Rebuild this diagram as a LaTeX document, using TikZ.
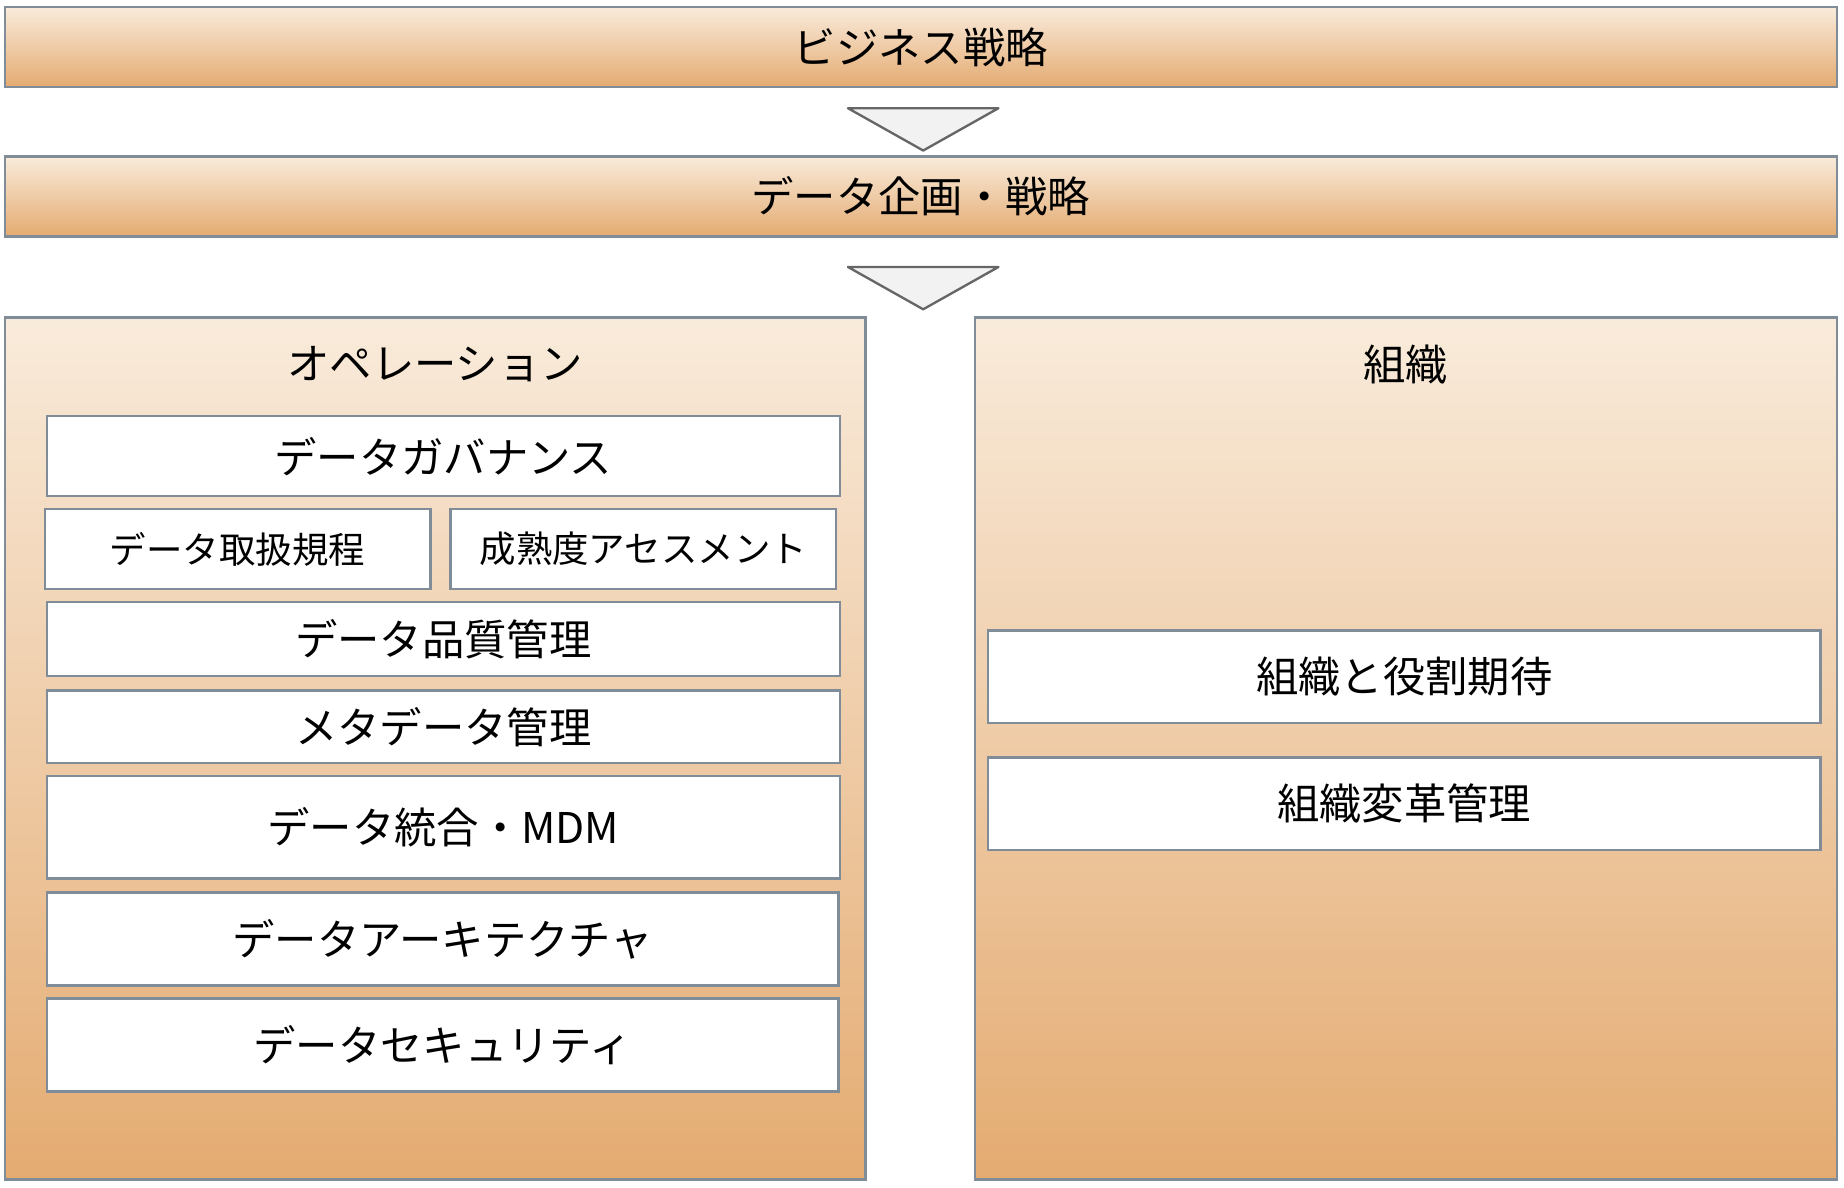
\documentclass[tikz,border=0pt]{standalone}
\usepackage{fontspec}
\setmainfont{Noto Sans CJK JP}
\usepackage{tikz}
\usetikzlibrary{calc}
\definecolor{mytop}{RGB}{249, 235, 219}
\definecolor{mybot}{RGB}{228, 171, 113}
\definecolor{myline}{RGB}{128, 140, 152}
\definecolor{mygray1}{RGB}{242, 242, 242}
\definecolor{mygray2}{RGB}{102, 102, 102}

\begin{document}
\begin{tikzpicture}[
    x = 1pt, y = -1pt,
    band/.style = {draw = myline, line width = 2pt, top color = mytop, bottom color = mybot, inner sep = 0pt, font = \fontsize{36}{40}\selectfont},
    item/.style = {draw = myline, line width = 2pt, fill = white, inner sep = 0pt, font = \fontsize{36}{40}\selectfont},
    small/.style = {item, font = \fontsize{31}{36}\selectfont},
    tri/.style = {draw = mygray2, line width = 2pt, fill = mygray1, line join = round},
]
\useasboundingbox (0,0) rectangle (1568,1010);

\node[band, minimum width = 1558pt, minimum height = 68pt] (biz) at (783,40) {ビジネス戦略};
\node[band, minimum width = 1558pt, minimum height = 68pt] (plan) at (783,167) {データ企画・戦略};
\draw[tri] (721,92) -- (849,92) -- (785,128) -- cycle;
\draw[tri] (721,227) -- (849,227) -- (785,263) -- cycle;

\node[band, minimum width = 732pt, minimum height = 733pt] (ops) at (370,636.5) {};
\node[band, minimum width = 733pt, minimum height = 733pt] (org) at (1195.5,636.5) {};
\node[font = \fontsize{36}{40}\selectfont] (opst) at (370,310) {オペレーション};
\node[font = \fontsize{36}{40}\selectfont] (orgt) at (1195,310) {組織};

% operation items
\node[item, minimum width = 674pt, minimum height = 68pt] (gov) at (377,388) {データガバナンス};
\node[small, minimum width = 328pt, minimum height = 68pt] (rule) at (202,467) {データ取扱規程};
\node[small, minimum width = 328pt, minimum height = 68pt] (assess) at (547,467) {成熟度アセスメント};
\node[item, minimum width = 674pt, minimum height = 63pt] (qual) at (377,543.5) {データ品質管理};
\node[item, minimum width = 674pt, minimum height = 62pt] (meta) at (377,618) {メタデータ管理};
\node[item, minimum width = 674pt, minimum height = 87pt] (mdm) at (377,703.5) {データ統合・MDM};
\node[item, minimum width = 673pt, minimum height = 79pt] (arch) at (376.5,798.5) {データアーキテクチャ};
\node[item, minimum width = 673pt, minimum height = 79pt] (sec) at (376.5,888.5) {データセキュリティ};

% organisation items
\node[item, minimum width = 708pt, minimum height = 79pt] (role) at (1194,575.5) {組織と役割期待};
\node[item, minimum width = 708pt, minimum height = 79pt] (change) at (1194,683.5) {組織変革管理};
\end{tikzpicture}
\end{document}
